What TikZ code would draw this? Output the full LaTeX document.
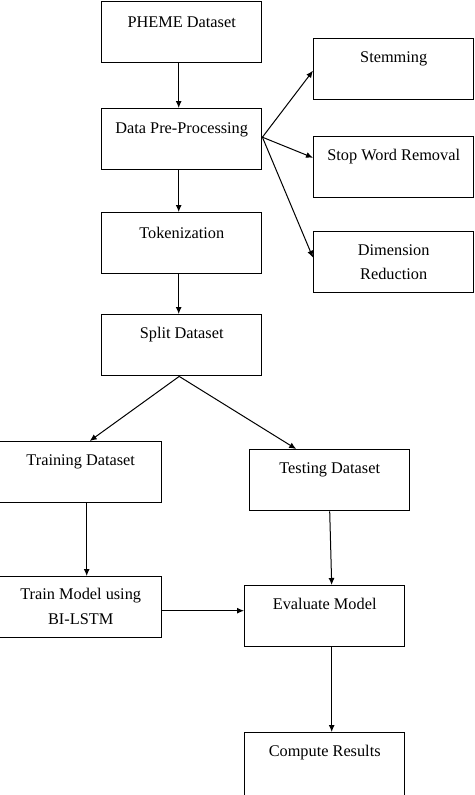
\documentclass[tikz,border=0pt]{standalone}
\usepackage{fontspec}
\setmainfont{Liberation Serif}
\usetikzlibrary{arrows.meta}
\begin{document}
\begin{tikzpicture}[x=1pt,y=-1pt,
  box/.style={draw=black,line width=1.4pt,rectangle,minimum width=160pt,minimum height=61pt,inner sep=0pt,anchor=north west},
  lbl/.style={font=\fontsize{16.3pt}{24.5pt}\selectfont,align=center,anchor=center,inner sep=0pt},
  arr/.style={draw=black,line width=1pt,-{Latex[length=7pt,width=6pt]}}]
\useasboundingbox (0,0) rectangle (474,795);
\node[box,label={[lbl,yshift=-21pt]north:PHEME Dataset}] (pheme) at (101,1) {};
\node[box,label={[lbl,yshift=-21.5pt]north:Data Pre-Processing}] (dpp) at (101,108) {};
\node[box,label={[lbl,yshift=-20.5pt]north:Tokenization}] (tok) at (101,212) {};
\node[box,label={[lbl,yshift=-20.5pt]north:Split Dataset}] (split) at (101,314) {};
\node[box,minimum width=162pt,label={[lbl,yshift=-21pt]north:Training Dataset}] (train) at (-1,441) {};
\node[box,label={[lbl,yshift=-20.5pt]north:Testing Dataset}] (test) at (249,449) {};
\node[box,minimum width=162pt,label={[lbl,yshift=-30.5pt]north:Train Model using\\BI-LSTM}] (tm) at (-1,576) {};
\node[box,label={[lbl,yshift=-18.5pt]north:Evaluate Model}] (eval) at (244,585) {};
\node[box,minimum height=70pt,label={[lbl,yshift=-20.5pt]north:Compute Results}] (comp) at (244,732) {};
\node[box,label={[lbl,yshift=-20.5pt]north:Stemming}] (stem) at (313,38) {};
\node[box,label={[lbl,yshift=-21pt]north:Stop Word Removal}] (stop) at (313,136) {};
\node[box,label={[lbl,yshift=-31pt]north:Dimension\\Reduction}] (dim) at (313,231) {};
% connectors
\draw[arr] ([xshift=-3pt]pheme.south) -- ([xshift=-3pt]dpp.north);
\draw[arr] ([xshift=-3pt]dpp.south) -- ([xshift=-3pt]tok.north);
\draw[arr] ([xshift=-3pt]tok.south) -- ([xshift=-3pt]split.north);
\coordinate (dppout) at ([yshift=2pt]dpp.east);
\draw[arr] (dppout) -- ([yshift=-1.5pt]stem.west);
\draw[arr] (dppout) -- ([yshift=9.5pt]stop.west);
\draw[arr] (dppout) -- ([yshift=4.5pt]dim.west);
\coordinate (splitout) at ([xshift=-2.5pt]split.south);
\draw[arr] (splitout) -- ([xshift=9pt]train.north);
\draw[arr] (splitout) -- ([xshift=-33.5pt]test.north);
\draw[arr] ([xshift=6pt]train.south) -- ([xshift=6pt]tm.north);
\draw[arr] (test.south) -- ([xshift=7pt]eval.north);
\coordinate (tmout) at ([yshift=-3.5pt]tm.east);
\draw[arr] (tmout) -- (tmout -| eval.west);
\draw[arr] ([xshift=7pt]eval.south) -- ([xshift=7pt]comp.north);
\end{tikzpicture}
\end{document}
